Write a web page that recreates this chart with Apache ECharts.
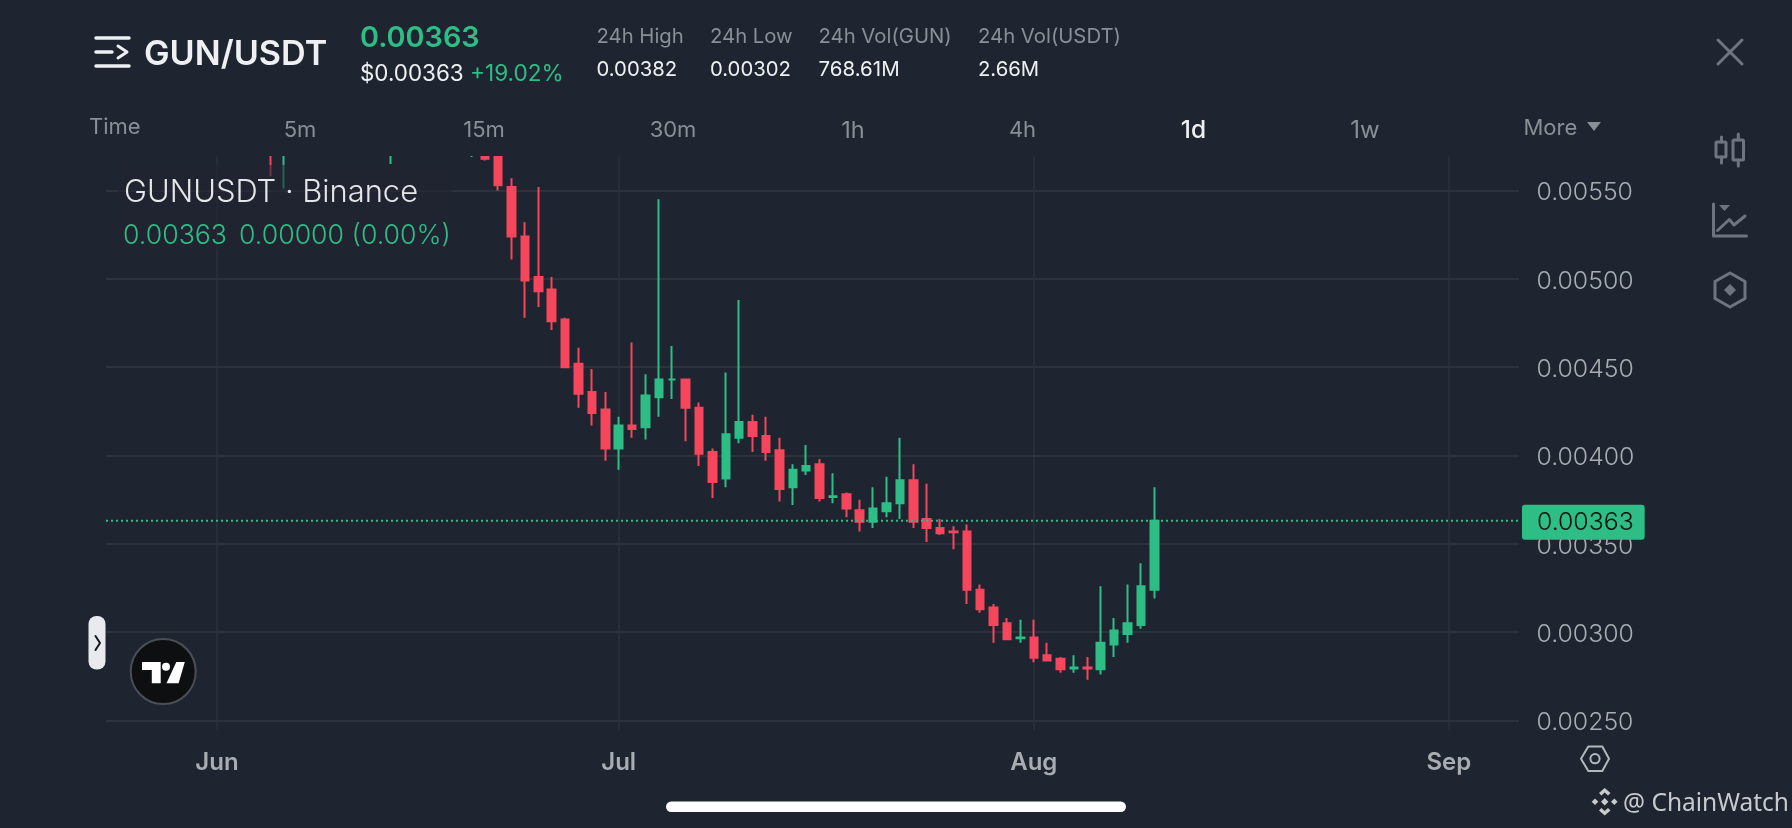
<!DOCTYPE html>
<html>
<head>
<meta charset="utf-8">
<title>GUN/USDT</title>
<style>html,body{margin:0;padding:0;background:#1f2530;overflow:hidden}#c{width:1792px;height:828px}</style>
<script src="https://cdn.jsdelivr.net/npm/echarts@6/dist/echarts.min.js"></script>
</head>
<body>
<div id="c"></div>
<script>
const days = ['06-05','06-06','06-14','06-20','06-21','06-22','06-23','06-24','06-25','06-26','06-27','06-28','06-29','06-30',
'07-01','07-02','07-03','07-04','07-05','07-06','07-07','07-08','07-09','07-10','07-11','07-12','07-13','07-14','07-15','07-16','07-17','07-18','07-19','07-20','07-21','07-22','07-23','07-24','07-25','07-26','07-27','07-28','07-29','07-30','07-31',
'08-01','08-02','08-03','08-04','08-05','08-06','08-07','08-08','08-09','08-10'];
const opens = [0.00600,0.00585,0.00580,0.00575,0.00580,0.00578,0.00552,0.00524,0.00501,0.00494,0.00477,0.00452,0.00436,0.00426,
0.00404,0.00417,0.00416,0.00433,0.00443,0.00443,0.00427,0.00402,0.00387,0.00410,0.00419,0.00411,0.00403,0.00382,0.003915,0.00395,0.003765,0.00378,0.00369,0.003625,0.003685,0.00373,0.00386,0.00364,0.00359,0.00357,0.00357,0.00324,0.00314,0.00305,0.002965,
0.00297,0.00287,0.00285,0.002795,0.00280,0.00279,0.00293,0.00299,0.00304,0.00324];
const closes = [0.00590,0.00600,0.00590,0.00580,0.00568,0.00553,0.00524,0.00499,0.00493,0.00476,0.00450,0.00435,0.00424,0.00404,
0.00417,0.00415,0.00434,0.00443,0.00443,0.00427,0.00401,0.00385,0.00412,0.00419,0.00411,0.00402,0.00381,0.00392,0.00394,0.00376,0.00377,0.00370,0.003625,0.00370,0.00373,0.00386,0.003625,0.00359,0.00356,0.003565,0.00324,0.00313,0.00304,0.00296,0.00297,
0.002855,0.00284,0.00279,0.00280,0.002795,0.00294,0.00301,0.00305,0.00326,0.00363];
const lows = [0.00558,0.00551,0.00565,0.00569,0.00567,0.00550,0.00511,0.00478,0.00484,0.00471,0.00450,0.00427,0.00417,0.00397,
0.00392,0.00410,0.00409,0.00422,0.00432,0.00408,0.00394,0.00376,0.00382,0.00407,0.00402,0.00397,0.00374,0.00372,0.00389,0.00374,0.00373,0.00365,0.00357,0.00359,0.00365,0.00364,0.00359,0.00351,0.00355,0.00347,0.00316,0.00311,0.00294,0.00296,0.00294,
0.00283,0.00284,0.00277,0.00277,0.00273,0.00276,0.00286,0.00294,0.00302,0.00319];
const highs = [0.00610,0.00605,0.00595,0.00585,0.00585,0.00585,0.00557,0.00532,0.00552,0.00501,0.00478,0.00461,0.00449,0.00436,
0.00422,0.00464,0.00446,0.00545,0.00462,0.00443,0.00430,0.00404,0.00447,0.00488,0.00423,0.00422,0.00410,0.00395,0.00406,0.00398,0.00390,0.00379,0.00375,0.00382,0.00388,0.00410,0.00395,0.00384,0.00364,0.00360,0.00361,0.00327,0.00316,0.00308,0.00307,
0.00307,0.00294,0.00286,0.00287,0.00286,0.00326,0.00308,0.00327,0.00339,0.00382];
const priceTicks = [0.00250,0.00300,0.00350,0.00400,0.00450,0.00500,0.00550];
const monthDays = ['06-01','07-01','08-01','09-01'];
const monthNames = ['Jun','Jul','Aug','Sep'];
const lastPrice = 0.00363;

const YEAR = 2025, DAY = 86400000;
const dayNo = s => { const [m,d] = s.split('-').map(Number); return Math.round((Date.UTC(YEAR,m-1,d)-Date.UTC(YEAR,5,1))/DAY); };
const candles = days.map((d,i)=>[dayNo(d),opens[i],closes[i],lows[i],highs[i]]);
const monthPos = monthDays.map(dayNo);
const X_MIN = -8.29, X_MAX = 97.24;

const BG='#1f2530', GRID='#2d323b', UP='#2ebd85', DOWN='#f6465d';
const GREY='#8a8e96', WHITE='#eef0f2', AXIS='#a9acb1', ICON='#6f7480';
const FF='Inter, Roboto, sans-serif';

function T(text,x,y,size,fill,weight,align,family){
  return {type:'text',z:110,silent:true,style:{text,x,y,fill,fontSize:size,fontWeight:weight||400,fontFamily:family||FF,align:align||'left',verticalAlign:'middle'}};
}
function L(pts,stroke,w,fill){
  return {type:'polyline',z:110,silent:true,shape:{points:pts},style:{stroke:stroke,lineWidth:w,fill:fill||'none',lineCap:'round',lineJoin:'round'}};
}
function P(pts,fill,stroke,w){
  return {type:'polygon',z:110,silent:true,shape:{points:pts},style:{fill:fill||'none',stroke:stroke||'none',lineWidth:w||0,lineJoin:'round'}};
}
function R(x,y,w,h,r,fill,stroke,lw,z,op){
  return {type:'rect',z:z||110,silent:true,shape:{x,y,width:w,height:h,r:r||0},style:{fill:fill||'none',stroke:stroke||'none',lineWidth:lw||0,opacity:op==null?1:op}};
}
function C(cx,cy,r,fill,stroke,lw){
  return {type:'circle',z:110,silent:true,shape:{cx,cy,r},style:{fill:fill||'none',stroke:stroke||'none',lineWidth:lw||0}};
}

const chrome = [
  // header band hides what runs above the top of the plot
  R(0,0,1792,156,0,BG,null,0,50),
  R(118,165,334,85,0,BG,null,0,105,0.6),
  L([[96,38],[129,38]],WHITE,3.5), L([[96,52],[112,52]],WHITE,3.5), L([[96,66],[129,66]],WHITE,3.5),
  L([[118,46],[127,52],[118,58]],WHITE,3),
  T('GUN/USDT',144,55,34.2,WHITE,600),
  T('0.00363',360,38.5,28.8,UP,600),
  T('$0.00363',360,74,22.4,WHITE,400),
  T('+19.02%',470,74,22.6,UP,400),
  T('24h High',596.5,37,20.3,GREY),
  T('0.00382',596.5,69.5,20.3,WHITE),
  T('24h Low',710,37,20.3,GREY),
  T('0.00302',710,69.5,20.3,WHITE),
  T('24h Vol(GUN)',818.5,37,20.3,GREY),
  T('768.61M',818.5,69.5,20.5,WHITE),
  T('24h Vol(USDT)',978,37,20.3,GREY),
  T('2.66M',978,69.5,20.3,WHITE),
  T('Time',89,127,22,GREY),
  T('5m',300,130.5,22,GREY,400,'center'),
  T('15m',484,130.5,22,GREY,400,'center'),
  T('30m',673,130.5,22,GREY,400,'center'),
  T('1h',853,130.5,23.5,GREY,400,'center'),
  T('4h',1022.5,130.5,22,GREY,400,'center'),
  T('1d',1193.5,130.5,24.5,WHITE,500,'center'),
  T('1w',1365,130.5,24,GREY,400,'center'),
  T('More',1523.5,128,22,GREY),
  P([[1587,122],[1601,122],[1594,131]],GREY),
  L([[1718,40],[1742,64]],ICON,3), L([[1742,40],[1718,64]],ICON,3),
  R(1716,142,10,15,1,null,ICON,3), L([[1721.5,137],[1721.5,142]],ICON,3), L([[1721.5,157],[1721.5,163]],ICON,3),
  R(1733,140,10.5,20,1,null,ICON,3), L([[1738.3,134],[1738.3,140]],ICON,3), L([[1738.3,160],[1738.3,166]],ICON,3),
  L([[1713.5,204],[1713.5,236],[1746.5,236]],ICON,3),
  P([[1719,205],[1730,205],[1724.5,211]],ICON),
  L([[1717.5,230.5],[1729.3,219.5],[1734,225],[1745,216]],ICON,3),
  P([[1730,273],[1745,281.5],[1745,298.5],[1730,307],[1715,298.5],[1715,281.5]],null,ICON,3),
  P([[1730,284],[1736,290],[1730,296],[1724,290]],ICON),
  T('GUNUSDT · Binance',124,193,30.9,'#e4e6e9',300),
  T('0.00363',123,236,26.7,UP,300),
  T('0.00000 (0.00%)',239,236,26.7,UP,300),
  R(88.5,616,17,53.5,8,'#e8eaee'),
  L([[95.5,636],[100,643],[95.5,650]],'#15181d',2),
  C(163.2,671.5,32.5,'#0e0f10','#4a4e56',2),
  P([[142,662],[160.7,662],[160.7,683.3],[151.8,683.3],[151.8,670],[142,670]],'#ffffff'),
  C(166,666.7,4,'#ffffff'),
  P([[176.3,662],[184.8,662],[178.6,683.3],[166.5,683.3]],'#ffffff'),
  P([[1588.3,746.5],[1602.3,746.5],[1609,758.7],[1602.3,771],[1588.3,771],[1581,758.7]],null,'#b4b7bb',2),
  C(1595,758.7,4.6,null,'#b4b7bb',2),
  R(666,801.5,460,10.5,5.2,'#ffffff'),
  P([[1604.7,788],[1610.5,793],[1608,795.5],[1604.7,792.5],[1601.4,795.5],[1599,793]],'#c8cacd'),
  P([[1604.7,815.5],[1610.5,810.5],[1608,808],[1604.7,811],[1601.4,808],[1599,810.5]],'#c8cacd'),
  P([[1591.7,801.8],[1595,798.5],[1598.3,801.8],[1595,805]],'#c8cacd'),
  P([[1611,801.8],[1614.3,798.5],[1617.6,801.8],[1614.3,805]],'#c8cacd'),
  P([[1604.7,798],[1608.4,801.8],[1604.7,805.5],[1601,801.8]],'#c8cacd'),
  T('@ ChainWatch',1623,804,24.5,'#c8cacd',400,'left','"Noto Sans", sans-serif')
];

const chart = echarts.init(document.getElementById('c'),null,{renderer:'canvas',width:1792,height:828});
chart.setOption({
  animation:false,
  backgroundColor:BG,
  grid:{left:106,top:156.5,width:1413,height:574,containLabel:false},
  xAxis:{
    type:'value',
    min:X_MIN,
    max:X_MAX,
    axisLine:{show:false},
    axisTick:{show:false,customValues:monthPos},
    splitLine:{show:true,lineStyle:{color:GRID,width:1.5}},
    axisLabel:{
      customValues:monthPos,
      margin:20,
      fontFamily:FF,fontSize:24,fontWeight:600,color:AXIS,
      hideOverlap:false,
      formatter:v=>monthNames[monthPos.indexOf(Math.round(+v))]||''
    }
  },
  yAxis:{
    type:'value',
    position:'right',
    min:0.0024434,
    max:0.0056925,
    axisLine:{show:false},
    axisTick:{show:false,customValues:priceTicks},
    splitLine:{show:true,lineStyle:{color:GRID,width:2}},
    axisLabel:{
      customValues:priceTicks,
      margin:17.5,
      verticalAlign:'top',
      padding:[-10,0,0,0],
      fontFamily:FF,fontSize:24.8,fontWeight:300,color:AXIS,
      formatter:v=>Number(v).toFixed(5)
    }
  },
  series:[{
    type:'candlestick',
    data:candles,
    barWidth:8,
    z:2,
    itemStyle:{color:UP,color0:DOWN,borderColor:UP,borderColor0:DOWN,borderWidth:2}
  },{
    type:'line',
    z:3,
    clip:false,
    silent:true,
    data:[[X_MIN,lastPrice],[X_MAX,lastPrice]],
    symbol:'none',
    lineStyle:{color:UP,type:[2,3],width:2},
    endLabel:{
      show:true,distance:3,offset:[0,1.5],
      formatter:()=>lastPrice.toFixed(5),
      backgroundColor:UP,color:'#08110e',
      fontFamily:FF,fontSize:24.8,fontWeight:300,
      padding:[5,11,5,15],borderRadius:3
    }
  }],
  graphic:{elements:chrome}
});
</script>
</body>
</html>
